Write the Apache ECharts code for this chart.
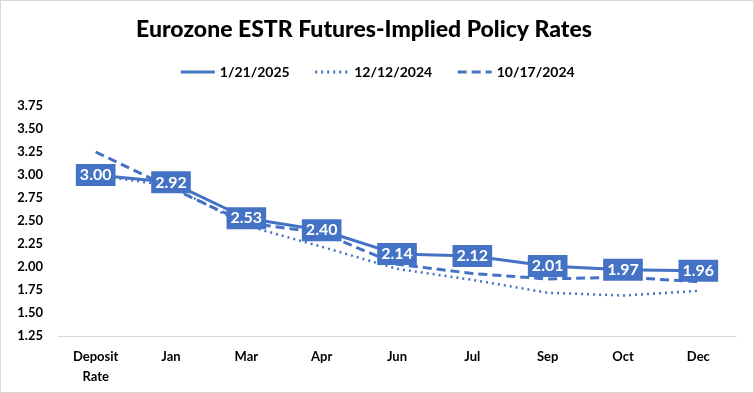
<!DOCTYPE html>
<html>
<head>
<meta charset="utf-8">
<script src="https://cdn.jsdelivr.net/npm/echarts@6/dist/echarts.min.js"></script>
<style>
html,body{margin:0;padding:0;background:#fff;}
#c{width:752px;height:391px;border:1px solid #d9d9d9;}
</style>
</head>
<body>
<div id="c"></div>
<script>
const categories = ['Deposit\nRate','Jan','Mar','Apr','Jun','Jul','Sep','Oct','Dec'];
const yTicks = [1.25, 3.75, 0.25]; // min, max, interval
const s20250121 = [3.00, 2.92, 2.53, 2.40, 2.14, 2.12, 2.01, 1.97, 1.96];
const s20241212 = [3.00, 2.88, 2.45, 2.22, 1.98, 1.86, 1.72, 1.69, 1.74];
const s20241017 = [3.25, 2.86, 2.48, 2.37, 2.03, 1.93, 1.87, 1.89, 1.84];
const names = ['1/21/2025', '12/12/2024', '10/17/2024'];

const BLUE = '#4472C4';
const FONT = 'Lato';
const NONE = 'rgba(0,0,0,0)';
const chart = echarts.init(document.getElementById('c'));
chart.setOption({
  animation: false,
  title: {
    text: 'Eurozone ESTR Futures-Implied Policy Rates',
    left: 358, top: 12, textAlign: 'center',
    textStyle: {fontFamily: FONT, fontWeight: 900, fontSize: 23, color: '#000'}
  },
  legend: {
    top: 59, left: 'center',
    itemWidth: 34, itemHeight: 10, itemGap: 24,
    itemStyle: {color: NONE, borderWidth: 0},
    lineStyle: {width: 3},
    textStyle: {fontFamily: FONT, fontWeight: 'bold', fontSize: 14, color: '#000'},
    data: names
  },
  grid: {left: 57, right: 17, top: 105, bottom: 56},
  xAxis: {
    type: 'category', data: categories, boundaryGap: true,
    axisLine: {lineStyle: {color: '#d9d9d9', width: 1}},
    axisTick: {show: false},
    axisLabel: {fontFamily: FONT, fontWeight: 'bold', fontSize: 13, color: '#000', margin: 11, lineHeight: 20}
  },
  yAxis: {
    type: 'value', min: yTicks[0], max: yTicks[1], interval: yTicks[2],
    axisLine: {show: false}, axisTick: {show: false},
    splitLine: {show: false},
    axisLabel: {fontFamily: FONT, fontWeight: 'bold', fontSize: 13, color: '#000', margin: 15,
      formatter: v => v.toFixed(2)}
  },
  series: [
    {
      name: names[0], type: 'line', data: s20250121,
      symbol: 'circle', symbolSize: 2, showSymbol: true, z: 5,
      lineStyle: {color: BLUE, width: 3, type: 'solid'}, itemStyle: {color: NONE, borderWidth: 0},
      label: {show: true, position: 'inside', formatter: p => p.value.toFixed(2),
        backgroundColor: BLUE, color: '#fff', fontFamily: FONT, fontWeight: 'bold', fontSize: 16,
        padding: [3, 4, 3, 4]}
    },
    {
      name: names[1], type: 'line', data: s20241212, symbol: 'none', z: 3,
      lineStyle: {color: BLUE, width: 2.5, type: [2, 4]}, itemStyle: {color: BLUE}
    },
    {
      name: names[2], type: 'line', data: s20241017, symbol: 'none', z: 4,
      lineStyle: {color: BLUE, width: 3, type: [9, 5]}, itemStyle: {color: BLUE}
    }
  ]
});
</script>
</body>
</html>
